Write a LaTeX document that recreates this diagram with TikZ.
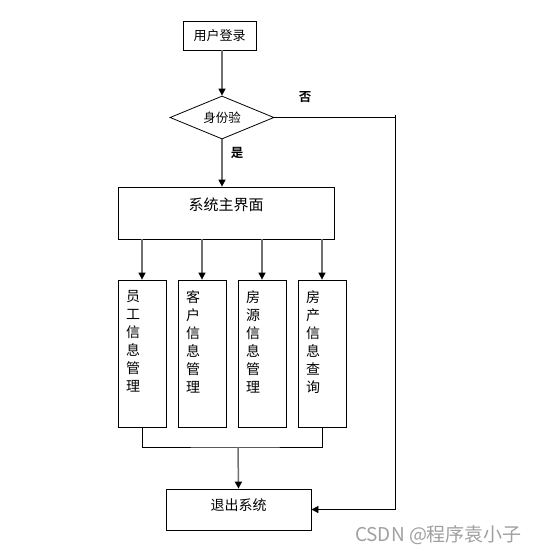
\documentclass[tikz,border=0pt]{standalone}
\usepackage{fontspec}
\usepackage{tikz}
\usepackage{xcolor}
\usetikzlibrary{
    shapes.geometric,
    arrows.meta,
    positioning,
    calc
}
\newfontfamily\cjk{Noto Sans CJK SC}
\newfontfamily\cjkbold{Noto Sans CJK SC Bold}
\definecolor{dark}{HTML}{000000}
\definecolor{stem}{HTML}{707070}
\definecolor{mark}{HTML}{A0A0A0}
\tikzset{
    % Plain box style
    box/.style={
        rectangle,
        draw=dark,
        fill=white,
        line width=0.8pt,
        inner sep=2pt,
        align=center,
        font=\cjk\fontsize{13pt}{15pt}\selectfont
    },
    % Decision style
    decision/.style={
        diamond,
        aspect=2.4,
        draw=dark,
        fill=white,
        line width=0.8pt,
        inner sep=1pt,
        font=\cjk\fontsize{12.5pt}{14pt}\selectfont
    },
    % Module column style
    module/.style={
        box,
        minimum width=48pt,
        minimum height=147pt
    },
    % Arrow styles
    flow/.style={
        -{Triangle[length=7pt, width=7pt, color=dark]},
        line width=1.5pt,
        color=stem
    },
    branch/.style={
        -{Triangle[length=7pt, width=7pt]},
        line width=0.8pt,
        color=dark
    },
    link/.style={
        line width=0.8pt,
        color=dark
    },
    % Label styles
    answer/.style={
        font=\cjkbold\fontsize{12.5pt}{14pt}\selectfont,
        text=dark,
        inner sep=0pt
    },
    column text/.style={
        font=\cjk\fontsize{14pt}{18pt}\selectfont,
        align=center,
        inner sep=0pt,
        anchor=north
    }
}
\begin{document}
\begin{tikzpicture}[x=1pt, y=-1pt]
        \useasboundingbox (0,0) rectangle (537,555);

        % Login and check
        \node[box, minimum width=73pt, minimum height=29pt] (login) at (219.5, 35.5) {用户登录};
        \node[decision, minimum width=104pt, minimum height=43pt] (verify) at (222, 117.5) {身份验};
        \draw[flow] (login.south -| verify) -- (verify.north);

        % Main screen
        \node[box, minimum width=216pt, minimum height=52pt, font=\cjk\fontsize{15pt}{17pt}\selectfont,
              text height=13pt, text depth=18pt] (mainui) at (226, 213) {系统主界面};
        \draw[flow] (verify.south) -- (verify.south |- mainui.north);
        \node[answer] (yes) at (237, 153) {是};

        % Module columns
        \foreach \i/\x/\txt in {1/142/员\\工\\信\\息\\管\\理, 2/202/客\\户\\信\\息\\管\\理,
                                3/262/房\\源\\信\\息\\管\\理, 4/322/房\\产\\信\\息\\查\\询} {
            \node[module] (m\i) at (\x, 353.5) {};
            \node[column text] (t\i) at ($(m\i.north west)+(15.5, 11)$) {\txt};
            \draw[flow] (mainui.south -| m\i) -- (m\i.north);
        }

        % Exit
        \node[box, minimum width=145pt, minimum height=41pt, font=\cjk\fontsize{14pt}{16pt}\selectfont,
              text height=12pt, text depth=11pt] (quit) at (238.5, 509.5) {退出系统};
        \coordinate (merge) at (238, 447);
        \draw[link] (m1.south) |- (merge) -| (m4.south);
        \draw[flow] (merge) -- (quit.north);

        % Rejected branch
        \coordinate (turn) at (395, 117.5);
        \coordinate (turntop) at (395, 114.5);
        \draw[link] (verify.east) -- (turn);
        \draw[branch] (turntop) |- (quit.east);
        \node[answer] (no) at (305, 97) {否};

        % Watermark
        \node[font=\cjk\fontsize{19pt}{21pt}\selectfont, text=mark, inner sep=0pt] (mark) at (438.5, 535) {CSDN @程序袁小子};

    \end{tikzpicture}
\end{document}
